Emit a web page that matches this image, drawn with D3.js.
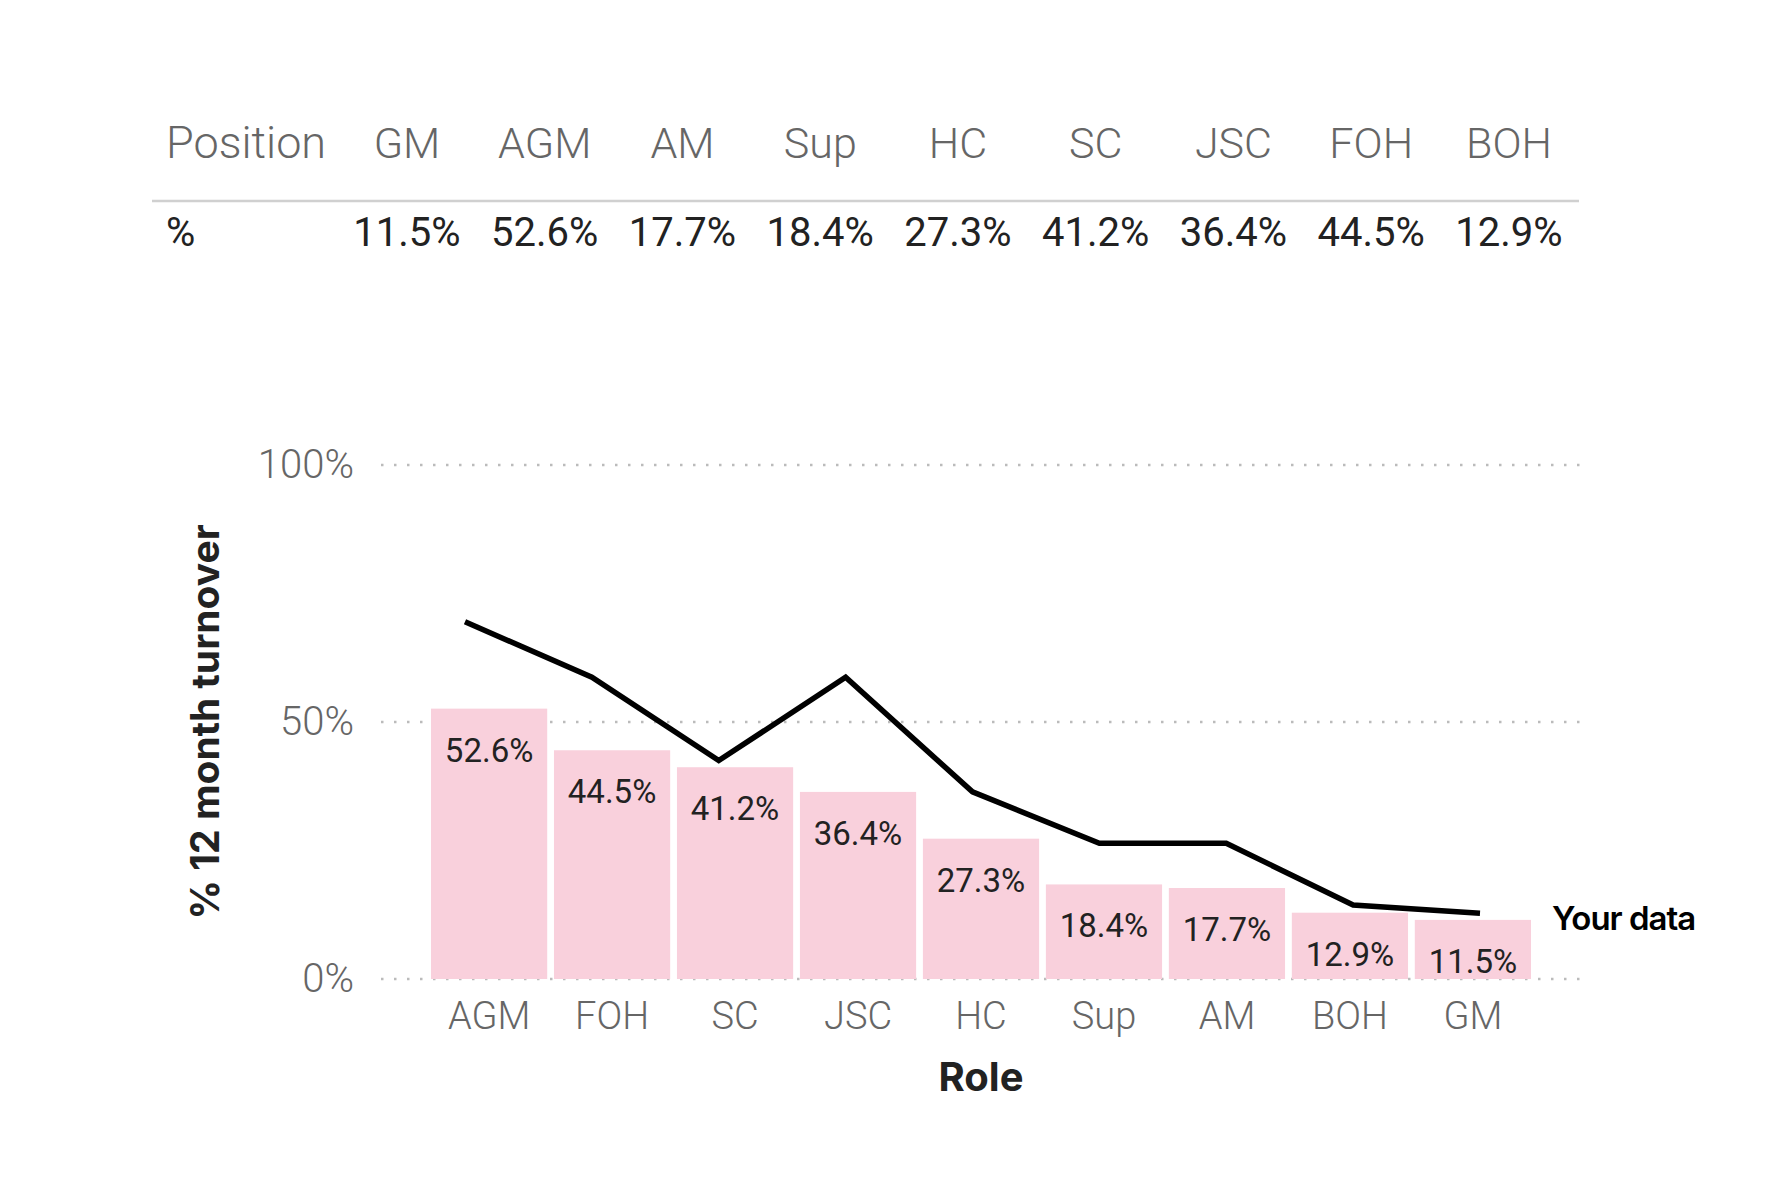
<!DOCTYPE html>
<html>
<head>
<meta charset="utf-8">
<script src="https://cdn.jsdelivr.net/npm/d3@7"></script>
<style>
  html, body { margin: 0; padding: 0; background: #fff; }
  svg { display: block; }
</style>
</head>
<body>
<svg id="chart" width="1768" height="1202"></svg>
<script>
// table on top
const tablePositions = ["GM", "AGM", "AM", "Sup", "HC", "SC", "JSC", "FOH", "BOH"];
const tableValues = [11.5, 52.6, 17.7, 18.4, 27.3, 41.2, 36.4, 44.5, 12.9];

// bar chart, sorted by turnover
const roles = ["AGM", "FOH", "SC", "JSC", "HC", "Sup", "AM", "BOH", "GM"];
const turnover = [52.6, 44.5, 41.2, 36.4, 27.3, 18.4, 17.7, 12.9, 11.5];
const yourData = [69.5, 58.7, 42.5, 58.7, 36.4, 26.4, 26.4, 14.4, 12.8];
const yTicks = [0, 50, 100];

const labelFont = "Roboto, 'Noto Sans', sans-serif";
const titleFont = "Inter, 'Noto Sans', sans-serif";

const svg = d3.select("#chart");

// ---- table ----
const colX = d3.scalePoint().domain(tablePositions).range([407, 1509]);

const table = svg.append("g").attr("class", "table");

table.append("text")
    .attr("x", 166).attr("y", 158)
    .attr("font-family", labelFont).attr("font-weight", 300)
    .attr("font-size", 45).attr("fill", "#666")
    .text("Position");

table.selectAll(".col-head")
    .data(tablePositions)
    .join("text")
    .attr("class", "col-head")
    .attr("x", d => colX(d)).attr("y", 158)
    .attr("text-anchor", "middle")
    .attr("font-family", labelFont).attr("font-weight", 300)
    .attr("font-size", 43).attr("fill", "#666")
    .text(d => d);

table.append("line")
    .attr("x1", 152).attr("x2", 1579)
    .attr("y1", 201).attr("y2", 201)
    .attr("stroke", "#d0d0d0").attr("stroke-width", 2.5);

table.append("text")
    .attr("x", 166).attr("y", 246)
    .attr("font-family", labelFont)
    .attr("font-size", 40).attr("fill", "#222")
    .text("%");

table.selectAll(".col-val")
    .data(tableValues)
    .join("text")
    .attr("class", "col-val")
    .attr("x", (d, i) => colX(tablePositions[i])).attr("y", 246)
    .attr("text-anchor", "middle")
    .attr("font-family", labelFont)
    .attr("font-size", 40).attr("fill", "#222")
    .text(d => d.toFixed(1) + "%");

// ---- chart ----
const x = d3.scaleBand().domain(roles).range([431, 1531]).paddingInner(0.055).paddingOuter(0);
const y = d3.scaleLinear().domain([0, 100]).range([979, 465]);
// the comparison line sits on its own, slightly wider spread
const xLine = d3.scalePoint().domain(roles).range([465, 1480]);

const chart = svg.append("g").attr("class", "chart");

// gridlines
chart.selectAll(".grid")
    .data(yTicks)
    .join("line")
    .attr("class", "grid")
    .attr("x1", 381).attr("x2", 1583)
    .attr("y1", d => y(d)).attr("y2", d => y(d))
    .attr("stroke", "#bbb").attr("stroke-width", 2.5)
    .attr("stroke-dasharray", "2.5,10.5");

// y axis (labels only)
const yAxis = d3.axisLeft(y).tickValues(yTicks).tickSize(0).tickPadding(0)
    .tickFormat(d => d + "%");
chart.append("g")
    .attr("transform", "translate(354,0)")
    .call(yAxis)
    .call(g => g.select(".domain").remove())
    .call(g => g.selectAll("text")
        .attr("font-family", labelFont).attr("font-weight", 300)
        .attr("font-size", 40).attr("fill", "#666"));

// bars
chart.selectAll(".bar")
    .data(roles)
    .join("rect")
    .attr("class", "bar")
    .attr("x", d => x(d))
    .attr("y", (d, i) => y(turnover[i]))
    .attr("width", x.bandwidth())
    .attr("height", (d, i) => y(0) - y(turnover[i]))
    .attr("fill", "#f9d0dc");

chart.selectAll(".bar-label")
    .data(roles)
    .join("text")
    .attr("class", "bar-label")
    .attr("x", d => x(d) + x.bandwidth() / 2)
    .attr("y", (d, i) => y(turnover[i]) + 53)
    .attr("text-anchor", "middle")
    .attr("font-family", labelFont)
    .attr("font-size", 33).attr("fill", "#222")
    .text((d, i) => turnover[i].toFixed(1) + "%");

// x axis (labels only)
const xAxis = d3.axisBottom(x).tickSize(0).tickPadding(0);
chart.append("g")
    .attr("transform", "translate(0,1002)")
    .call(xAxis)
    .call(g => g.select(".domain").remove())
    .call(g => g.selectAll("text")
        .attr("dy", "0.71em")
        .attr("font-family", labelFont).attr("font-weight", 300)
        .attr("font-size", 38).attr("fill", "#666"));

// your data line
const line = d3.line()
    .x((d, i) => xLine(roles[i]))
    .y(d => y(d));

chart.append("path")
    .datum(yourData)
    .attr("d", line)
    .attr("fill", "none")
    .attr("stroke", "#000")
    .attr("stroke-width", 5.5)
    .attr("stroke-linejoin", "miter");

chart.append("text")
    .attr("x", xLine(roles[roles.length - 1]) + 72)
    .attr("y", y(yourData[yourData.length - 1]) + 5)
    .attr("dy", "0.35em")
    .attr("font-family", titleFont).attr("font-weight", 600)
    .attr("font-size", 33).attr("letter-spacing", -1)
    .attr("fill", "#000")
    .text("Your data");

// axis titles
chart.append("text")
    .attr("x", 981).attr("y", 1091)
    .attr("text-anchor", "middle")
    .attr("font-family", titleFont).attr("font-weight", 700)
    .attr("font-size", 40).attr("fill", "#222")
    .text("Role");

chart.append("text")
    .attr("transform", "translate(205,722) rotate(-90)")
    .attr("text-anchor", "middle")
    .attr("dy", "0.35em")
    .attr("font-family", titleFont).attr("font-weight", 700)
    .attr("font-size", 39).attr("fill", "#222")
    .text("% 12 month turnover");
</script>
</body>
</html>
